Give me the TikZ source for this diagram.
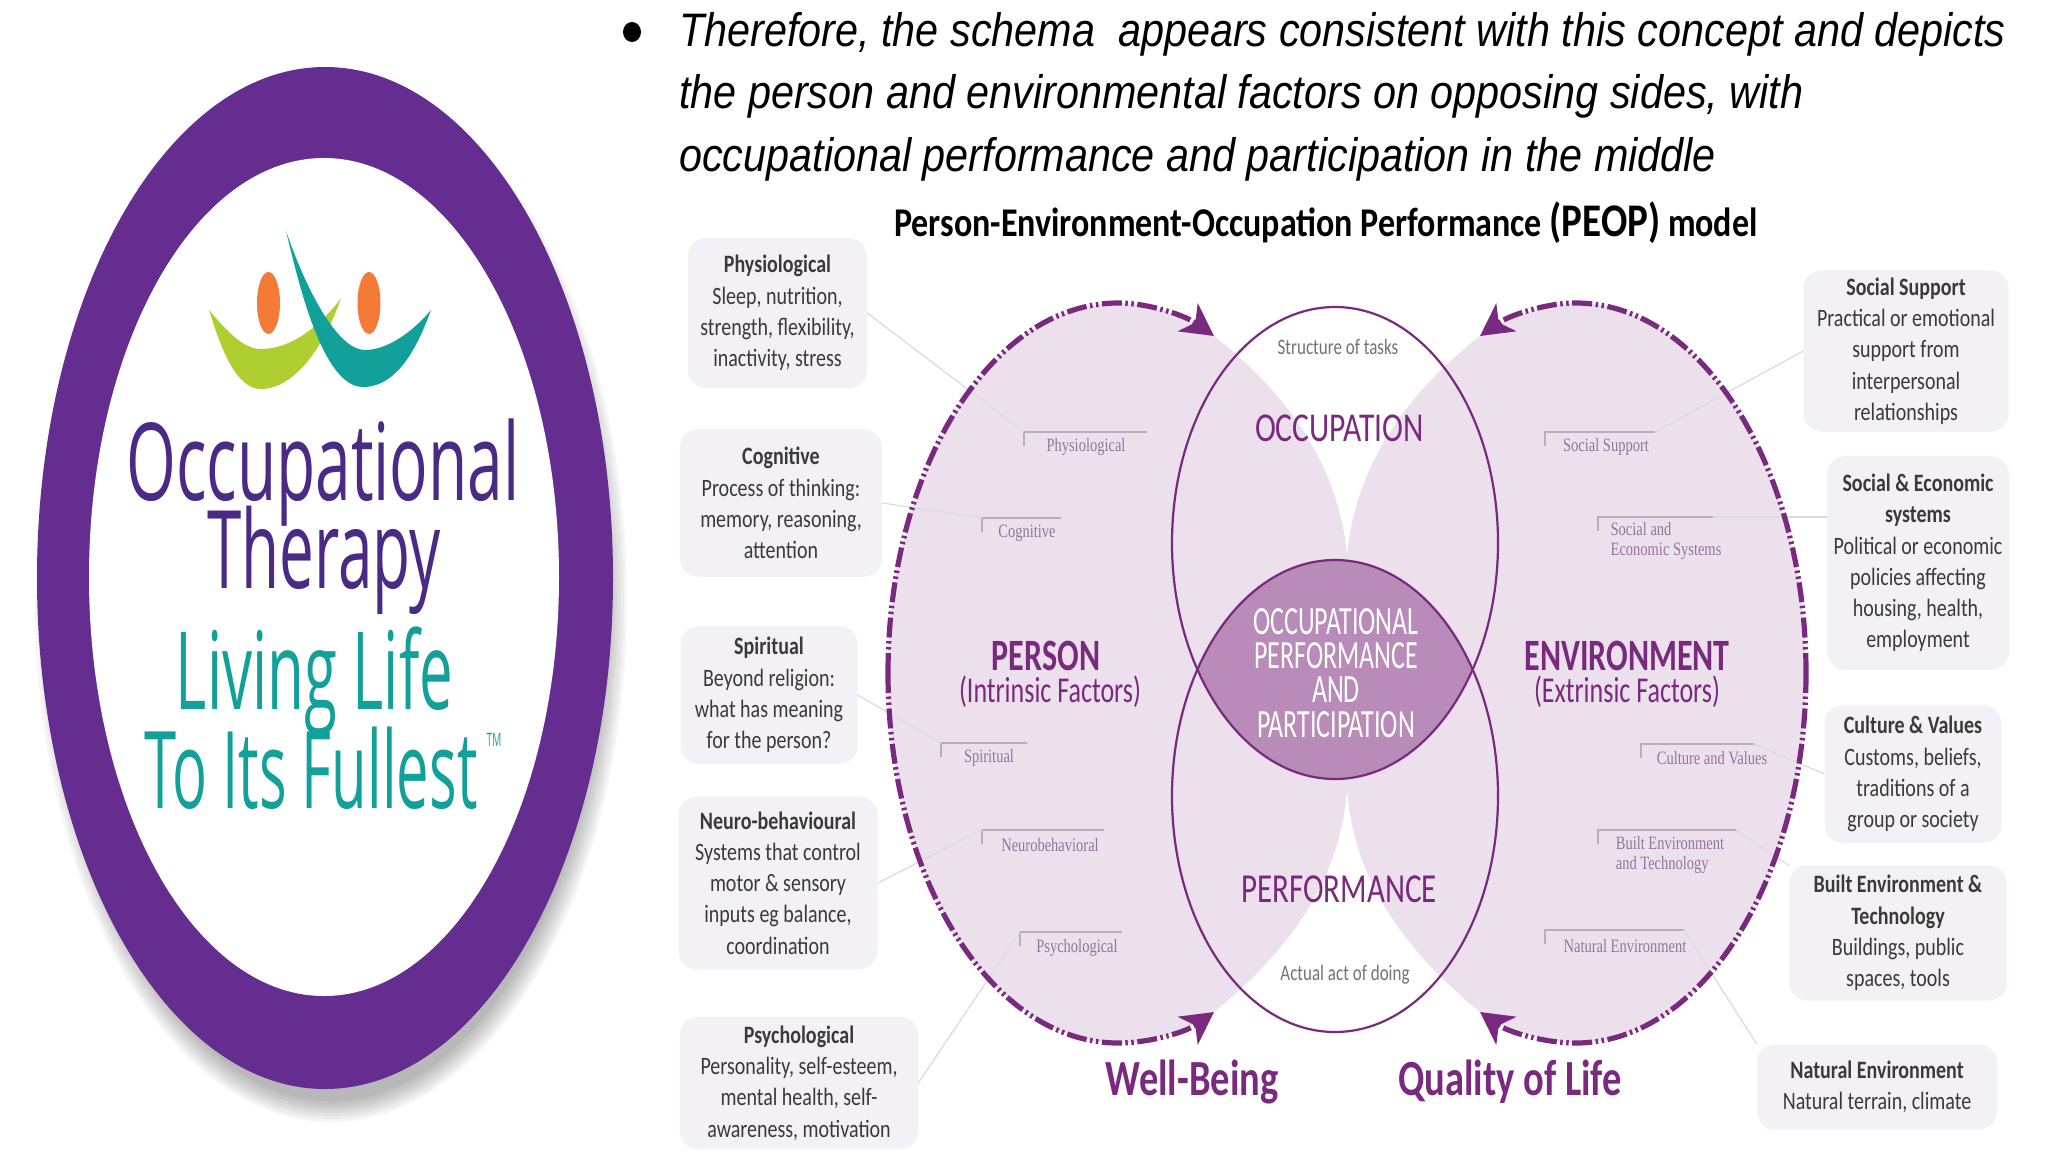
\documentclass[tikz,border=0pt]{standalone}
\usepackage{fontspec}
\usepackage{tikz}
\usetikzlibrary{arrows.meta,shapes.geometric,positioning}
\setmainfont{Carlito}
\newfontfamily\badgefont{Open Sans}
\newfontfamily\slidefont{Liberation Sans}
\newfontfamily\tagfont{Liberation Serif}
\newcommand{\sized}[2]{\fontsize{#1}{#2}\selectfont}
\definecolor{ringpurple}{HTML}{652D90}
\definecolor{badgeink}{HTML}{4B2A85}
\definecolor{badgeteal}{HTML}{12A19A}
\definecolor{badgegreen}{HTML}{AFCF30}
\definecolor{badgeorange}{HTML}{F47A38}
\definecolor{peopurple}{HTML}{7A2A7E}
\definecolor{lobefill}{HTML}{ECE0ED}
\definecolor{lensfill}{HTML}{B98BB9}
\definecolor{boxgray}{HTML}{F3F1F5}
\definecolor{boxink}{HTML}{3A3A3A}
\definecolor{tagink}{HTML}{94769A}
\definecolor{tagrule}{HTML}{B9AFBC}
\definecolor{leadgray}{HTML}{DEDADF}
\tikzset{
  infobox/.style={
      rectangle,
      rounded corners=18pt,
      inner sep=0pt,
      fill=boxgray,
      text=boxink,
      align=center,
      transform shape,
      yscale=1.25,
      font=\sized{20}{25}
  },
  badgetext/.style={anchor=base,inner sep=0pt,transform shape},
  bigtag/.style={inner sep=0pt,align=center,text=peopurple,transform shape,yscale=1.4},
  greytag/.style={inner sep=0pt,text=black!55,transform shape,yscale=1.3,font=\sized{17}{22}},
  smalltag/.style={inner sep=0pt,align=left,text=tagink,transform shape,yscale=1.3,font=\tagfont\sized{14.5}{15}},
  tagline/.style={draw=tagrule,line width=1.3pt},
  leadline/.style={draw=leadgray,line width=1.3pt},
  loopline/.style={
      draw=peopurple,
      line width=5.2pt,
      dash pattern=on 20pt off 3.5pt on 2.5pt off 3.5pt on 2.5pt off 3.5pt,
      -{Stealth[length=32pt,width=34pt,inset=9pt]}
  }
}
\begin{document}
\begin{tikzpicture}[x=1pt,y=-1pt]
    \useasboundingbox (0,0) rectangle (2048,1152);

    % badge on the left
    \foreach \step in {0,...,7}
      \fill[black,opacity=.04] (331,600) ellipse [x radius=296-\step*3,y radius=522-\step*3];
    \node[ellipse,fill=ringpurple,minimum width=576pt,minimum height=1022pt,inner sep=0pt] (ring) at (325,578) {};
    \node[ellipse,fill=white,minimum width=470pt,minimum height=838pt,inner sep=0pt] (disc) at (324,577) {};
    \fill[badgegreen] (209,310) .. controls (230,335) and (245,349) .. (261,349)
      .. controls (295,349) and (325,320) .. (341,298)
      .. controls (325,345) and (295,389) .. (261,389)
      .. controls (235,389) and (220,345) .. (209,310) -- cycle;
    \fill[badgeteal] (286,231) .. controls (298,280) and (322,387) .. (363,387)
      .. controls (400,387) and (420,340) .. (431,310)
      .. controls (410,335) and (385,350) .. (365,350)
      .. controls (340,350) and (310,300) .. (286,231) -- cycle;
    \node[ellipse,fill=badgeorange,minimum width=23pt,minimum height=62pt,inner sep=0pt] (headL) at (268.5,303) {};
    \node[ellipse,fill=badgeorange,minimum width=23pt,minimum height=62pt,inner sep=0pt] (headR) at (369,303) {};
    \node[badgetext,yscale=1.68,text=badgeink,font=\badgefont\sized{64}{66}] (occ) at (323,500) {Occupational};
    \node[badgetext,yscale=1.75,text=badgeink,font=\badgefont\sized{62}{64}] (ther) at (324,588) {Therapy};
    \node[badgetext,yscale=1.8,text=badgeteal,font=\badgefont\sized{60}{62}] (living) at (314.5,709) {Living Life};
    \node[badgetext,yscale=1.85,text=badgeteal,font=\badgefont\sized{58}{60}] (fullest) at (311,808) {To Its Fullest};
    \node[badgetext,yscale=1.85,text=badgeteal,font=\badgefont\sized{10}{12}] (tm) at (494,746) {TM};

    % slide text
    \node[ellipse,fill=black,minimum width=18pt,minimum height=20pt,inner sep=0pt] (dot) at (632,32) {};
    \node[anchor=north west,align=left,inner sep=0pt,transform shape,xscale=.88,
      font=\slidefont\itshape\sized{47}{62.5}] (slide) at (679,12)
      {Therefore, the schema\ \ appears consistent with this concept and depicts\\
       the person and environmental factors on opposing sides, with\\
       occupational performance and participation in the middle};
    \node[inner sep=0pt,transform shape,yscale=1.2,font=\bfseries\sized{34}{36}] (title) at (1326,223)
      {Person-Environment-Occupation Performance {\sized{39}{36}(PEOP)} model};

    % two lobes
    \fill[lobefill] (1214,336) .. controls (1186,316) and (1150,303) .. (1118,303)
      .. controls (991,303) and (888,469) .. (888,673)
      .. controls (888,877) and (991,1043) .. (1118,1043)
      .. controls (1150,1043) and (1186,1032) .. (1214,1012)
      .. controls (1290,950) and (1340,880) .. (1347,790) -- (1347,556)
      .. controls (1340,470) and (1290,395) .. (1214,336) -- cycle;
    \fill[lobefill] (1480,336) .. controls (1508,316) and (1544,303) .. (1576,303)
      .. controls (1703,303) and (1806,469) .. (1806,673)
      .. controls (1806,877) and (1703,1043) .. (1576,1043)
      .. controls (1544,1043) and (1508,1032) .. (1480,1012)
      .. controls (1404,950) and (1354,880) .. (1347,790) -- (1347,556)
      .. controls (1354,470) and (1404,395) .. (1480,336) -- cycle;

    % lens and its two ellipses
    \begin{scope}
      \clip (1335,543) ellipse [x radius=163,y radius=236];
      \fill[lensfill] (1335,796) ellipse [x radius=163,y radius=236];
    \end{scope}
    \node[ellipse,draw=peopurple,line width=2.2pt,minimum width=326pt,minimum height=472pt,inner sep=0pt] (occEll) at (1335,543) {};
    \node[ellipse,draw=peopurple,line width=2.2pt,minimum width=326pt,minimum height=472pt,inner sep=0pt] (perfEll) at (1335,796) {};

    % boxes
    \node[infobox,minimum width=179pt,minimum height=120pt] (physBox) at (777.5,313)
      {\textbf{Physiological}\\Sleep, nutrition,\\strength, flexibility,\\inactivity, stress};
    \node[infobox,minimum width=202pt,minimum height=118pt] (cogBox) at (781,503)
      {\textbf{Cognitive}\\Process of thinking:\\memory, reasoning,\\attention};
    \node[infobox,minimum width=177pt,minimum height=110pt] (spirBox) at (769,695)
      {\textbf{Spiritual}\\Beyond religion:\\what has meaning\\for the person?};
    \node[infobox,minimum width=199pt,minimum height=138pt] (neuroBox) at (778,883)
      {\textbf{Neuro-behavioural}\\Systems that control\\motor \& sensory\\inputs eg balance,\\coordination};
    \node[infobox,minimum width=238pt,minimum height=106pt] (psychBox) at (799,1083)
      {\textbf{Psychological}\\Personality, self-esteem,\\mental health, self-\\awareness, motivation};
    \node[infobox,minimum width=205pt,minimum height=129pt] (socialBox) at (1906,351)
      {\textbf{Social Support}\\Practical or emotional\\support from\\interpersonal\\relationships};
    \node[infobox,minimum width=182pt,minimum height=171pt] (econBox) at (1918,563)
      {\textbf{Social \& Economic}\\\textbf{systems}\\Political or economic\\policies affecting\\housing, health,\\employment};
    \node[infobox,minimum width=177pt,minimum height=110pt] (cultBox) at (1913,774)
      {\textbf{Culture \& Values}\\Customs, beliefs,\\traditions of a\\group or society};
    \node[infobox,minimum width=218pt,minimum height=108pt] (builtBox) at (1898,933)
      {\textbf{Built Environment \&}\\\textbf{Technology}\\Buildings, public\\spaces, tools};
    \node[infobox,minimum width=240pt,minimum height=68pt] (natBox) at (1877,1087)
      {\textbf{Natural Environment}\\Natural terrain, climate};

    % small brackets inside the lobes
    \foreach \name/\px/\py/\len in {physTag/1024/432/123,cogTag/982/518/79,spirTag/941/743/86,
      neuroTag/982/830/122,psychTag/1020/932/102,socialTag/1545/432/110,econTag/1598/517/115,
      cultTag/1641/744/113,builtTag/1598/830/138,natTag/1545/930/139}
    {
      \coordinate (\name) at (\px,\py);
      \coordinate (\name-end) at (\px+\len,\py);
      \draw[tagline] (\px,\py+14) -- (\name) -- (\name-end);
    }
    \draw[leadline] (physBox.east) -- (physTag);
    \draw[leadline] (cogBox.east) -- (cogTag);
    \draw[leadline] (spirBox.east) -- (spirTag);
    \draw[leadline] (neuroBox.east) -- (neuroTag);
    \draw[leadline] (psychBox.east) -- (psychTag);
    \draw[leadline] (socialBox.west) -- (socialTag-end);
    \draw[leadline] (econTag-end) -- (econTag-end -| econBox.west);
    \draw[leadline] (cultBox.west) -- (cultTag-end);
    \draw[leadline] (builtBox.north west) -- (builtTag-end);
    \draw[leadline] (natBox.north west) -- (natTag-end);

    \node[smalltag] (physLbl) at (1086,447) {Physiological};
    \node[smalltag] (cogLbl) at (1027,533) {Cognitive};
    \node[smalltag] (spirLbl) at (989,758) {Spiritual};
    \node[smalltag] (neuroLbl) at (1050,845) {Neurobehavioral};
    \node[smalltag] (psychLbl) at (1077,948) {Psychological};
    \node[smalltag] (socialLbl) at (1606,447) {Social Support};
    \node[smalltag] (econLbl) at (1666,541) {Social and\\Economic Systems};
    \node[smalltag] (cultLbl) at (1712,758) {Culture and Values};
    \node[smalltag] (builtLbl) at (1670,855) {Built Environment\\and Technology};
    \node[smalltag] (natLbl) at (1625,946) {Natural Environment};

    % big labels
    \node[bigtag,font=\bfseries\sized{32}{34}] (person) at (1046,656) {PERSON};
    \node[bigtag,font=\sized{26}{30}] (intrinsic) at (1050,692) {(Intrinsic Factors)};
    \node[bigtag,font=\bfseries\sized{32}{34}] (env) at (1627,656) {ENVIRONMENT};
    \node[bigtag,font=\sized{26}{30}] (extrinsic) at (1627,692) {(Extrinsic Factors)};
    \node[bigtag,yscale=.93,font=\sized{31.5}{32}] (occLbl) at (1339.5,428) {OCCUPATION};
    \node[bigtag,yscale=.95,font=\sized{31}{32}] (perfLbl) at (1339,889) {PERFORMANCE};
    \node[greytag] (tasks) at (1338,347) {Structure of tasks};
    \node[greytag] (doing) at (1345,975) {Actual act of doing};
    \node[bigtag,yscale=1.1,text=white,font=\sized{26}{22.2}] (lensLbl) at (1336,673)
      {OCCUPATIONAL\\PERFORMANCE\\AND\\PARTICIPATION};
    \node[bigtag,yscale=.94,font=\bfseries\sized{38.5}{42}] (well) at (1192,1082) {Well-Being};
    \node[bigtag,yscale=.94,font=\bfseries\sized{38.5}{42}] (quality) at (1510,1082) {Quality of Life};

    % dashed loops
    \coordinate (personMid) at (888,673);
    \coordinate (personTop) at (1214,336);
    \coordinate (personLow) at (1214,1012);
    \coordinate (envMid) at (1806,673);
    \coordinate (envTop) at (1480,336);
    \coordinate (envLow) at (1480,1012);
    \draw[loopline] (personMid) .. controls (888,469) and (991,303) .. (1118,303)
      .. controls (1150,303) and (1186,316) .. (personTop);
    \draw[loopline] (personMid) .. controls (888,877) and (991,1043) .. (1118,1043)
      .. controls (1150,1043) and (1186,1032) .. (personLow);
    \draw[loopline] (envMid) .. controls (1806,469) and (1703,303) .. (1576,303)
      .. controls (1544,303) and (1508,316) .. (envTop);
    \draw[loopline] (envMid) .. controls (1806,877) and (1703,1043) .. (1576,1043)
      .. controls (1544,1043) and (1508,1032) .. (envLow);
\end{tikzpicture}
\end{document}
